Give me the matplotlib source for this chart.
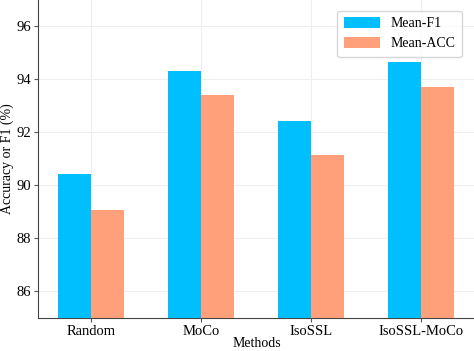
import matplotlib.pyplot as plt
import numpy as np

methods = ['Random', 'MoCo', 'IsoSSL', 'IsoSSL-MoCo']
mean_f1 = [90.42, 94.28, 92.40, 94.63]
mean_acc = [89.05, 93.38, 91.12, 93.70]
y_ticks = [86, 88, 90, 92, 94, 96]

plt.rcParams['font.family'] = ['Liberation Serif', 'DejaVu Serif']

fig = plt.figure(figsize=(4.74, 3.51), dpi=100)
ax = fig.add_axes([38 / 474, 33 / 351, 1 - 38 / 474 + 0.003, 1 - 33 / 351 + 0.003])

x = np.arange(len(methods))
w = 0.3
ax.bar(x - w / 2, mean_f1, w, color='#00BFFF', label='Mean-F1', zorder=3)
ax.bar(x + w / 2, mean_acc, w, color='#FFA07A', label='Mean-ACC', zorder=3)

ax.set_ylim(85, 97)
ax.set_xlim(-0.48, 3.49)
ax.set_yticks(y_ticks)
ax.set_xticks(x)
ax.set_xticklabels(methods)
ax.tick_params(labelsize=10.5, length=3, pad=2, color='#555555')
ax.set_xlabel('Methods', fontsize=10, labelpad=-1)
ax.set_ylabel('Accuracy or F1 (%)', fontsize=10, labelpad=2)

ax.grid(True, color='#eeeeee', linewidth=0.8, zorder=0)
for s in ['left', 'bottom']:
    ax.spines[s].set_color('#444444')
for s in ['top', 'right']:
    ax.spines[s].set_color('#bbbbbb')
    ax.spines[s].set_linewidth(2)

ax.legend(loc='upper right', fontsize=10, frameon=True, edgecolor='#cccccc',
          fancybox=True, bbox_to_anchor=(0.985, 0.985), handlelength=2.6,
          handleheight=0.9, borderpad=0.45, labelspacing=0.45)

fig.savefig('out.png', dpi=100)
